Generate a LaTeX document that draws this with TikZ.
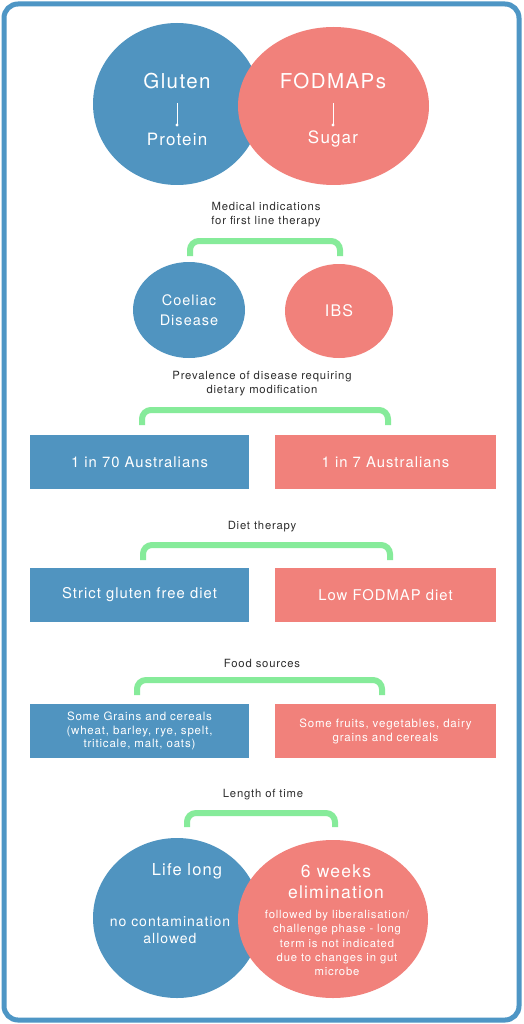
\documentclass[tikz,border=0pt]{standalone}
\usepackage{fontspec}
\setmainfont[LetterSpace=7]{TeX Gyre Heros}
\usetikzlibrary{shapes.geometric}
\definecolor{cblue}{RGB}{80,148,192}
\definecolor{cpink}{RGB}{241,129,123}
\definecolor{cgreen}{RGB}{134,235,154}
\definecolor{cframe}{RGB}{78,150,197}
\definecolor{ctext}{RGB}{45,45,45}
\tikzset{
  bluell/.style={ellipse, fill=cblue, draw=none, inner sep=0pt},
  pinkell/.style={ellipse, fill=cpink, draw=none, inner sep=0pt},
  bluebox/.style={rectangle, fill=cblue, inner sep=0pt, text=white, align=center},
  pinkbox/.style={rectangle, fill=cpink, inner sep=0pt, text=white, align=center},
  wtext/.style={text=white, align=center, inner sep=0pt},
  lbl/.style={text=ctext, align=center, inner sep=0pt, font=\fontsize{11.3}{14}\selectfont},
  brack/.style={draw=cgreen, line width=6pt, rounded corners=9pt},
  tick/.style={draw=white, line width=0.5pt},
  bigt/.style={wtext, font=\fontsize{20.5}{24}\selectfont},
  subt/.style={wtext, font=\fontsize{17}{20}\selectfont},
  boxt/.style={font=\fontsize{14.8}{18}\selectfont},
}
\begin{document}
\begin{tikzpicture}[x=1pt,y=-1pt]
\useasboundingbox (0,0) rectangle (523,1024);
\fill[white] (0,0) rectangle (523,1024);
\draw[cframe, line width=5pt, rounded corners=14pt] (4,4) rectangle (519,1020);

% --- top Venn
\node[bluell, minimum width=168pt, minimum height=162pt] (glu) at (177,104) {};
\node[pinkell, minimum width=191pt, minimum height=158pt] (fod) at (333.5,106) {};
\node[bigt] (glut) at (177,81) {Gluten};
\node[subt] (prot) at (177,139) {Protein};
\node[bigt] (fodt) at (333,81) {FODMAPs};
\node[subt] (sugt) at (333,139) {Sugar};
\coordinate (g1) at (177,103); \coordinate (g2) at (177,125);
\coordinate (f1) at (333,103); \coordinate (f2) at (333,125);
\draw[tick] (g1) -- (g2); \fill[white] (g2) circle (1.6pt);
\draw[tick] (f1) -- (f2); \fill[white] (f2) circle (1.6pt);

% --- section 2
\node[lbl] (l2) at (266,215) {Medical indications\\for first line therapy};
\coordinate (b2l) at (190,256); \coordinate (b2r) at (340,256);
\draw[brack] (b2l) -- (190,241) -- (340,241) -- (b2r);
\node[bluell, minimum width=112pt, minimum height=96pt] (coe) at (189,310) {};
\node[pinkell, minimum width=108pt, minimum height=94pt] (ibs) at (339,311) {};
\node[wtext, font=\fontsize{14.5}{20}\selectfont] at (coe) {Coeliac\\Disease};
\node[wtext, font=\fontsize{16}{18}\selectfont] at (ibs) {IBS};

% --- section 3
\node[lbl] (l3) at (262,384) {Prevalence of disease requiring\\dietary modification};
\coordinate (b3l) at (142,425); \coordinate (b3r) at (388,425);
\draw[brack] (b3l) -- (142,410) -- (388,410) -- (b3r);
\node[bluebox, minimum width=219pt, minimum height=54pt, boxt] (p1) at (139.5,462) {1 in 70 Australians};
\node[pinkbox, minimum width=221pt, minimum height=54pt, boxt] (p2) at (385.5,462) {1 in 7 Australians};

% --- section 4
\node[lbl] (l4) at (262,527) {Diet therapy};
\coordinate (b4l) at (143,560); \coordinate (b4r) at (390,560);
\draw[brack] (b4l) -- (143,545) -- (390,545) -- (b4r);
\node[bluebox, minimum width=219pt, minimum height=54pt, boxt] (d1) at (139.5,595) {Strict gluten free diet};
\node[pinkbox, minimum width=221pt, minimum height=54pt, boxt] (d2) at (385.5,595) {Low FODMAP diet};

% --- section 5
\node[lbl] (l5) at (262,663) {Food sources};
\coordinate (b5l) at (137,695); \coordinate (b5r) at (382,695);
\draw[brack] (b5l) -- (137,680) -- (382,680) -- (b5r);
\node[bluebox, minimum width=219pt, minimum height=54pt, font=\fontsize{11.5}{13.6}\selectfont] (s1) at (139.5,731) {Some Grains and cereals\\(wheat, barley, rye, spelt,\\triticale, malt, oats)};
\node[pinkbox, minimum width=221pt, minimum height=54pt, font=\fontsize{11.5}{14}\selectfont] (s2) at (385.5,731) {Some fruits, vegetables, dairy\\grains and cereals};

% --- section 6
\node[lbl] (l6) at (263,795) {Length of time};
\coordinate (b6l) at (187,827); \coordinate (b6r) at (335,827);
\draw[brack] (b6l) -- (187,813) -- (335,813) -- (b6r);
\node[bluell, minimum width=168pt, minimum height=160pt] (ll) at (177,918) {};
\node[pinkell, minimum width=190pt, minimum height=158pt] (sw) at (333,919) {};
\node[wtext, font=\fontsize{16.5}{20}\selectfont] (llt) at (187,871) {Life long};
\node[wtext, font=\fontsize{14}{17}\selectfont] (nct) at (170,930) {no contamination\\allowed};
\node[wtext, font=\fontsize{17.5}{21}\selectfont] (swt) at (336,882) {6 weeks\\elimination};
\node[wtext, font=\fontsize{11.3}{14.2}\selectfont] (fbt) at (337,943) {followed by liberalisation/\\challenge phase - long\\term is not indicated\\due to changes in gut\\microbe};
\end{tikzpicture}
\end{document}
